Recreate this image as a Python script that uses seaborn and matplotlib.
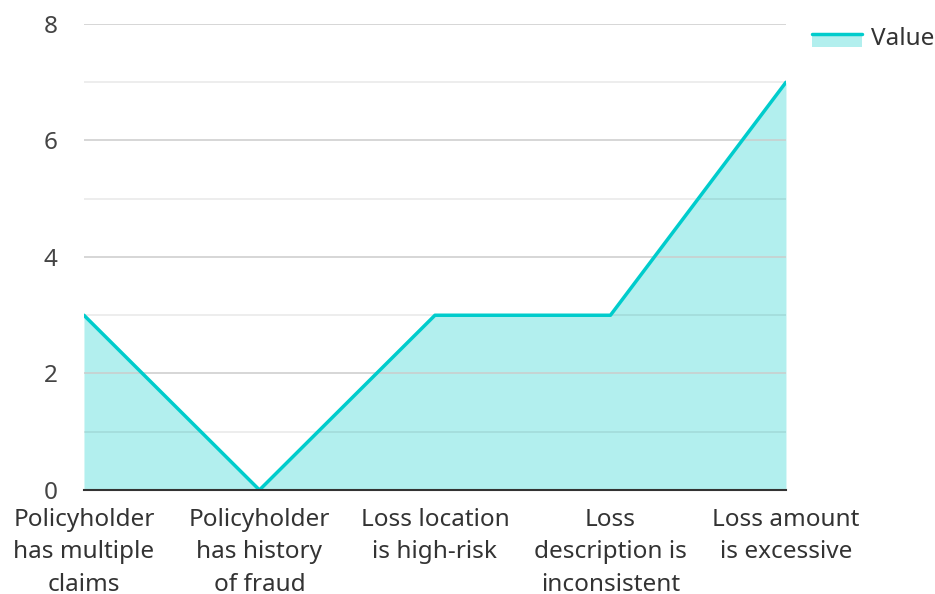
import matplotlib
matplotlib.use('Agg')
import matplotlib.pyplot as plt
import seaborn as sns
import pandas as pd
from matplotlib.legend_handler import HandlerBase
from matplotlib.patches import Rectangle
from matplotlib.lines import Line2D

# data
categories = ['Policyholder\nhas multiple\nclaims', 'Policyholder\nhas history\nof fraud',
              'Loss location\nis high-risk', 'Loss\ndescription is\ninconsistent',
              'Loss amount\nis excessive']
values = [3, 0, 3, 3, 7]
y_ticks = [0, 2, 4, 6, 8]
y_minor = [1, 3, 5, 7]

line_color = '#00CCCC'
fill_color = '#B2EFEE'
fs = 17.5

sns.set_theme(style='white')
plt.rcParams['font.family'] = ['Noto Sans', 'DejaVu Sans']

df = pd.DataFrame({'category': categories, 'value': values})

fig = plt.figure(figsize=(9.35, 5.94), dpi=100)
ax = fig.add_axes([0.0898, 0.1751, 0.8406 - 0.0898, 0.9596 - 0.1751])

sns.lineplot(data=df, x='category', y='value', ax=ax, color=line_color,
             linewidth=2.5, zorder=4, sort=False)
ax.fill_between(range(len(values)), values, 0, color=fill_color, linewidth=0, zorder=1)

ax.set_xlim(0, len(values) - 1)
ax.set_ylim(0, 8)
ax.set_yticks(y_ticks)
ax.set_yticks(y_minor, minor=True)
ax.grid(which='major', axis='y', color='#cccccc', linewidth=1.1, zorder=2)
ax.grid(which='minor', axis='y', color='#000000', alpha=0.09, linewidth=1.1, zorder=2)
ax.set_axisbelow(False)
for sp in ['left', 'right', 'top']:
    ax.spines[sp].set_visible(False)
ax.spines['bottom'].set_color('#333333')
ax.spines['bottom'].set_linewidth(1.5)
ax.spines['bottom'].set_zorder(5)

ax.tick_params(axis='y', which='both', length=0, pad=19, labelsize=fs, labelcolor='#444444')
ax.tick_params(axis='x', length=0, pad=13, labelsize=fs, labelcolor='#333333')
for lbl in ax.get_xticklabels():
    lbl.set_linespacing(1.46)
ax.set_xlabel('')
ax.set_ylabel('')


class AreaHandler(HandlerBase):
    def create_artists(self, legend, orig_handle, xdescent, ydescent, width, height, fontsize, trans):
        top = -ydescent + height / 2 + 1.5
        rect = Rectangle((-xdescent, top - 9), width, 9,
                         facecolor=fill_color, edgecolor='none', transform=trans)
        line = Line2D([-xdescent, -xdescent + width], [top, top],
                      color=line_color, linewidth=2.5, transform=trans)
        return [rect, line]


handle = Rectangle((0, 0), 1, 1)
fig.legend([handle], ['Value'], handler_map={Rectangle: AreaHandler()},
           loc='upper left', bbox_to_anchor=(0.850, 0.983), frameon=False,
           fontsize=fs, handlelength=2.05, handleheight=0.5, handletextpad=0.38,
           labelcolor='#333333', borderpad=0.2)

fig.savefig('out.png', dpi=100)
